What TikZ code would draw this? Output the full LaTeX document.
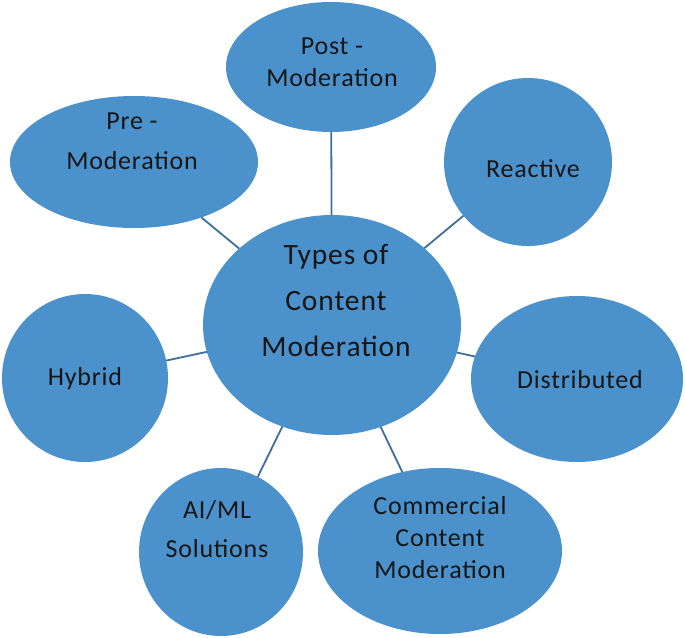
\documentclass[tikz,border=0pt]{standalone}
\usepackage{fontspec}
\newfontfamily\bubblefont{Carlito}[LetterSpace=3]
\usetikzlibrary{shapes.geometric}

\definecolor{bubbleFill}{RGB}{75,145,203}
\definecolor{spokeLine}{RGB}{62,110,155}
\definecolor{labelText}{RGB}{22,22,22}

\begin{document}
\begin{tikzpicture}[x=1pt, y=-1pt,
		bubble/.style={ellipse, fill=bubbleFill, inner sep=0pt, outer sep=0pt},
		spoke/.style={draw=spokeLine, line width=1.8pt},
		bubbletext/.style={anchor=base, align=center, text=labelText, inner sep=0pt,
			font=\bubblefont\fontsize{26}{32}\selectfont}]
		\useasboundingbox (0,0) rectangle (685,637);
		% bubbles, one unit is one pixel of the reference
		\node[bubble, minimum width=258, minimum height=220] (hub) at (332,325) {};
		\node[bubble, minimum width=210, minimum height=130] (post) at (331,67) {};
		\node[bubble, minimum width=248, minimum height=132] (pre) at (134,162) {};
		\node[bubble, minimum width=168, minimum height=168] (reactive) at (528,162) {};
		\node[bubble, minimum width=212, minimum height=166] (distributed) at (577,379) {};
		\node[bubble, minimum width=244, minimum height=166] (commercial) at (440,551) {};
		\node[bubble, minimum width=164, minimum height=168] (aiml) at (221,552) {};
		\node[bubble, minimum width=166, minimum height=168] (hybrid) at (85,378) {};
		% labels, placed at the baseline of their last line
		\node[bubbletext, font=\bubblefont\fontsize{29.5}{46}\selectfont] (hubtext) at (336,356) {Types of\\Content\\Moderation};
		\node[bubbletext] (posttext) at (332,86) {Post -\\Moderation};
		\node[bubbletext] (pretext) at (132,169) {Pre -\\[8pt]Moderation};
		\node[bubbletext] (reactivetext) at (533,177) {Reactive};
		\node[bubbletext] (distributedtext) at (580,388) {Distributed};
		\node[bubbletext] (commercialtext) at (440,578) {Commercial\\Content\\Moderation};
		\node[bubbletext] (aimltext) at (217,557) {AI/ML\\[7pt]Solutions};
		\node[bubbletext] (hybridtext) at (85,385) {Hybrid};
		% spokes from the hub
		\foreach \leaf in {post, pre, reactive, distributed, commercial, aiml, hybrid}
			\draw[spoke] (hub) -- (\leaf);
	\end{tikzpicture}
\end{document}
